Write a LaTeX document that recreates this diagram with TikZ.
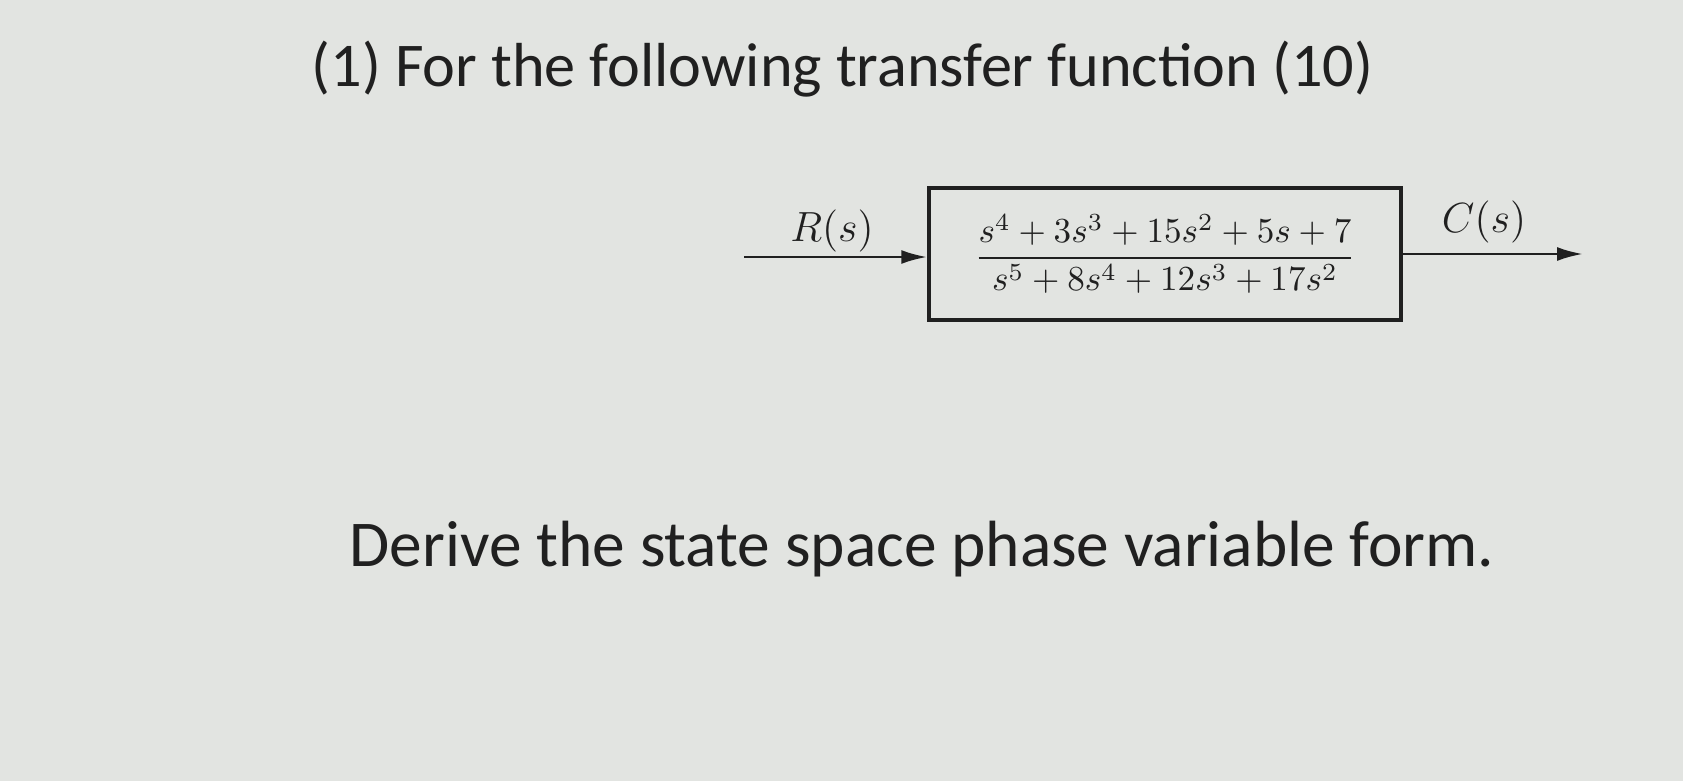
\documentclass[tikz,border=0pt]{standalone}
\usepackage{amsmath}
\usepackage{fontspec}
\setmainfont{Carlito}
\usetikzlibrary{arrows.meta}
\definecolor{paper}{RGB}{226,228,225}
\definecolor{ink}{RGB}{32,32,32}
\tikzset{
  block/.style={draw=ink,line width=1pt,minimum width=4.72cm,minimum height=1.32cm,inner sep=0pt},
  signal/.style={draw=ink,line width=0.8pt,-{Latex[length=2.6mm,width=1.4mm]}},
  question/.style={text=ink,inner sep=0pt,anchor=base west}
}
\begin{document}
\begin{tikzpicture}
    \fill[paper] (0,0) rectangle (16.83,7.81);

    \node[question,font=\fontsize{17.7}{21}\selectfont] (Q) at (3.11, 6.95) {(1) For the following transfer function (10)};
    \node[question,font=\fontsize{18.6}{22}\selectfont] (D) at (3.49, 2.15) {Derive the state space phase variable form.};

    \node[block,text=ink] (G) at (11.65, 5.27) {\fontsize{10}{12}\selectfont$\dfrac{s^4+3s^3+15s^2+5s+7}{s^5+8s^4+12s^3+17s^2}$};
    \coordinate (in) at (7.44, 5.24);
    \coordinate (out) at (15.83, 5.27);
    \node[text=ink,font=\fontsize{12}{14}\selectfont] (R) at (8.32, 5.50) {$R(s)$};
    \node[text=ink,font=\fontsize{11.5}{14}\selectfont] (C) at (14.84, 5.59) {$C(s)$};

    \path[signal] (in) -- (G.west |- in);
    \path[signal] (G.east |- out) -- (out);
\end{tikzpicture}
\end{document}
